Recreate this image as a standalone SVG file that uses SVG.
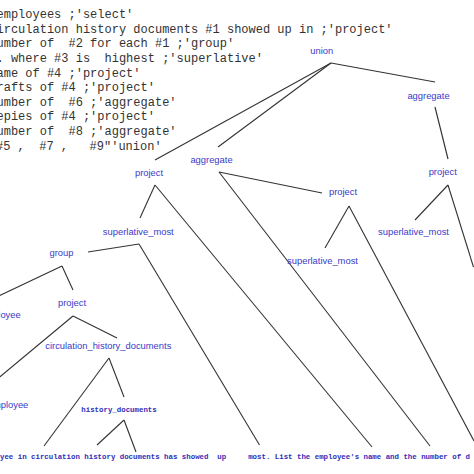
<svg xmlns="http://www.w3.org/2000/svg" width="474" height="474" viewBox="0 0 474 474">
<style>
.q{font-family:"Liberation Mono","Courier New",monospace;font-size:12px;fill:#333;white-space:pre}
.n{font-family:"Liberation Sans",Arial,sans-serif;font-size:9.4px;fill:#3a3ac8;text-anchor:middle}
.w{font-family:"Liberation Mono","Courier New",monospace;font-size:7.4px;font-weight:bold;fill:#2e2eb8;white-space:pre}
.e{stroke:#333;stroke-width:1.1;fill:none}
</style>
<rect width="474" height="474" fill="#fff"/>
<g id="query" xml:space="preserve">
<text class="q" x="-3.5" y="18">employees ;'select'</text>
<text class="q" x="-3.5" y="32.6">irculation history documents #1 showed up in ;'project'</text>
<text class="q" x="-3.5" y="47.3">umber of  #2 for each #1 ;'group'</text>
<text class="q" x="-3.5" y="61.9">. where #3 is  highest ;'superlative'</text>
<text class="q" x="-3.5" y="76.5">ame of #4 ;'project'</text>
<text class="q" x="-3.5" y="91.2">rafts of #4 ;'project'</text>
<text class="q" x="-3.5" y="105.8">umber of  #6 ;'aggregate'</text>
<text class="q" x="-3.5" y="120.4">epies of #4 ;'project'</text>
<text class="q" x="-3.5" y="135">umber of  #8 ;'aggregate'</text>
<text class="q" x="-4" y="149.7">#5 ,  #7 ,   #9"'union'</text>
</g>
<g id="connectors">
<line class="e" x1="331" y1="63" x2="435" y2="82"/>
<line class="e" x1="331" y1="63" x2="155" y2="160"/>
<line class="e" x1="331" y1="63" x2="218" y2="147"/>
<line class="e" x1="435" y1="107" x2="448" y2="159"/>
<line class="e" x1="448" y1="185" x2="415" y2="220"/>
<line class="e" x1="448" y1="185" x2="473.5" y2="267"/>
<line class="e" x1="219" y1="172" x2="322" y2="193"/>
<line class="e" x1="219" y1="172" x2="430" y2="446"/>
<line class="e" x1="155" y1="185" x2="140" y2="218"/>
<line class="e" x1="155" y1="185" x2="372" y2="447"/>
<line class="e" x1="349" y1="206" x2="325" y2="248"/>
<line class="e" x1="349" y1="206" x2="474" y2="441"/>
<line class="e" x1="139" y1="244" x2="88" y2="252"/>
<line class="e" x1="139" y1="244" x2="259.5" y2="445"/>
<line class="e" x1="62" y1="266" x2="-10" y2="300"/>
<line class="e" x1="62" y1="266" x2="73" y2="290"/>
<line class="e" x1="73" y1="316" x2="-10" y2="385"/>
<line class="e" x1="73" y1="316" x2="117" y2="338"/>
<line class="e" x1="109" y1="358" x2="44" y2="446"/>
<line class="e" x1="109" y1="358" x2="124" y2="397"/>
<line class="e" x1="124" y1="420" x2="97" y2="445"/>
<line class="e" x1="124" y1="420" x2="136" y2="452"/>
</g>
<g id="n-union"><text class="n" x="321.7" y="54.3">union</text></g>
<g id="n-aggregate-r"><text class="n" x="428.5" y="99.3">aggregate</text></g>
<g id="n-aggregate-m"><text class="n" x="211.5" y="162.5">aggregate</text></g>
<g id="n-project-l"><text class="n" x="149" y="175.8">project</text></g>
<g id="n-project-m"><text class="n" x="343" y="195.2">project</text></g>
<g id="n-project-r"><text class="n" x="442.7" y="174.5">project</text></g>
<g id="n-superlative-l"><text class="n" x="138.3" y="234.5">superlative_most</text></g>
<g id="n-superlative-m"><text class="n" x="322.5" y="263.8">superlative_most</text></g>
<g id="n-superlative-r"><text class="n" x="413.5" y="235">superlative_most</text></g>
<g id="n-group"><text class="n" x="61.5" y="255.8">group</text></g>
<g id="n-project-g"><text class="n" x="72" y="305.5">project</text></g>
<g id="n-employee-1"><text class="n" x="0.4" y="318.3">employee</text></g>
<g id="n-circulation"><text class="n" x="108.3" y="348.6">circulation_history_documents</text></g>
<g id="n-employee-2"><text class="n" x="8" y="408.3">employee</text></g>
<g id="n-history"><text class="w" x="81.3" y="411.5">history_documents</text></g>
<g id="sentence">
<text class="w" x="0" y="459.3">yee in circulation history documents has showed  up</text>
<text class="w" x="248.2" y="459.3">most. List the employee's name and the number of d</text>
</g>
</svg>
